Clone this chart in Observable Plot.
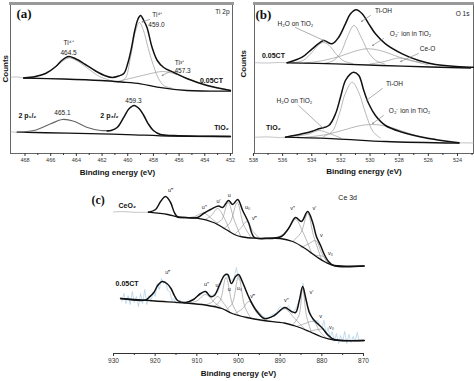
<!DOCTYPE html>
<html>
<head>
<meta charset="utf-8">
<script src="https://cdn.jsdelivr.net/npm/d3@7"></script>
<script src="https://cdn.jsdelivr.net/npm/@observablehq/plot@0.6"></script>
<style>
  body { margin: 0; background: #fff; }
  #fig { position: relative; width: 474px; height: 381px; overflow: hidden; background: #fff; }
  #fig svg { position: absolute; overflow: visible; }
</style>
</head>
<body>
<div id="fig"></div>
<script>
// ---------- (a) Ti 2p : [binding energy eV, counts a.u.] ----------
const aTicks = [468, 466, 464, 462, 460, 458, 456, 454, 452];
const aMinor = [467, 465, 463, 461, 459, 457, 455, 453];

const aCT_raw = [[469.1, 76.2], [468.7, 76.6], [468.3, 76], [468.1, 75.6]];
const aCT_env = [[468.1, 75.5], [467.2, 77], [466.4, 80], [465.6, 87], [465.1, 93.5], [464.6, 97], [464.1, 95], [463.3, 89], [462.5, 82.5], [461.7, 77.5], [461.2, 76], [460.7, 77.5], [460.3, 80], [460.0, 90], [459.7, 106], [459.45, 123], [459.2, 134.5], [459.0, 138], [458.75, 133], [458.5, 126], [458.1, 106], [457.7, 93], [457.2, 86], [456.4, 81], [455.4, 75], [453.8, 68], [452, 63]];
const aCT_bkg = [[468.1, 75.5], [465, 74.5], [462.1, 73], [460.5, 71.5], [459, 69.7], [457.7, 66.3], [455.4, 63], [452, 62.3]];
const aCT_ti4a = [[467.6, 76], [466.2, 81], [465.2, 91], [464.6, 95.5], [464, 93], [463.2, 86], [462.2, 77], [461.2, 72.5]];
const aCT_ti4b = [[460.8, 71], [460.2, 75], [459.8, 95], [459.4, 122], [459.1, 131], [458.8, 124], [458.4, 105], [458.0, 88], [457.6, 75], [457.2, 68], [456.6, 65.5]];
const aCT_ti3 = [[461, 71.5], [459.5, 76], [458.2, 80], [457.3, 82], [456.4, 80], [455.3, 74.5], [453.8, 67.5], [452, 63.5]];

const aTi_raw = [[469.1, 21.8], [468.8, 21.3], [468.6, 21.4]];
const aTi_p12 = [[468.6, 21.3], [467.3, 23], [466, 29.7], [465.1, 34], [464.2, 32.3], [463.2, 26.3], [462.1, 23], [461.3, 23]];
const aTi_p32 = [[461.6, 22.6], [461.3, 23], [460.8, 26.3], [460.3, 36.3], [459.9, 44.7], [459.5, 48], [459.1, 44.7], [458.75, 38], [458.4, 29.7], [458, 23], [457.45, 19], [456.4, 18], [454.3, 17.3], [452, 17]];
const aTi_bkg = [[468.6, 21.3], [464.7, 20.3], [462.1, 19.7], [459.5, 18.7], [457.45, 17.7], [452, 17]];

const aNotes = [
  {x: 464.61, y: 111, text: "Ti⁴⁺"}, {x: 464.61, y: 101, text: "464.5"},
  {x: 457.7, y: 139, text: "Ti⁴⁺"}, {x: 457.76, y: 129, text: "459.0"},
  {x: 455.97, y: 91, text: "Ti³⁺"}, {x: 455.73, y: 83, text: "457.3"},
  {x: 459.55, y: 53, text: "459.3"}, {x: 465.08, y: 41, text: "465.1"}
];
const aBold = [
  {x: 453.48, y: 73, text: "0.05CT"}, {x: 452.7, y: 26, text: "TiO₂"},
  {x: 461.42, y: 38, text: "2 p₃/₂"}, {x: 467.81, y: 38, text: "2 p₁/₂"}
];
const aArrows = [
  {x1: 458.3, y1: 134, x2: 458.89, y2: 131.5},
  {x1: 456.67, y1: 82.3, x2: 457.32, y2: 78}
];

// ---------- (b) O 1s ----------
const bTicks = [538, 536, 534, 532, 530, 528, 526, 524];
const bMinor = [537, 535, 533, 531, 529, 527, 525, 523];

const bCT_raw = [[537.9, 90.8], [537, 90.5], [536.3, 91], [535.7, 90.7]];
const bCT_env = [[535.69, 90.7], [534.66, 96.3], [533.97, 104.7], [533.4, 111.3], [533.17, 113], [532.6, 109.7], [532.15, 116.3], [531.69, 129.7], [531.34, 139.7], [530.95, 143.7], [530.54, 139.7], [530.09, 129.7], [529.63, 119.7], [528.94, 109.7], [527.79, 99.7], [526.65, 93], [525.51, 89], [523.1, 86.3], [522.9, 86.3]];
const bCT_bkg = [[535.69, 90.7], [532.37, 89.7], [527.8, 87.3], [523.1, 85.5]];
const bCT_h2o = [[535.3, 90.7], [534.6, 93], [534, 101], [533.5, 109], [533.17, 111], [532.8, 108], [532.3, 99], [531.8, 92.5], [531.2, 90]];
const bCT_tioh = [[533.2, 90], [532.5, 93], [532, 101], [531.6, 115], [531.1, 128], [530.6, 116], [530.1, 101], [529.6, 93], [529, 89.5]];
const bCT_o2 = [[534.5, 90.5], [533.2, 93], [532, 97.5], [531, 102.5], [530.2, 104.7], [529.3, 103], [528.5, 99], [527.5, 94], [526.5, 90.5]];
const bCT_ceo = [[530, 89.5], [529, 92], [528, 95.5], [527, 92.5], [526, 88.5]];

const bTi_raw = [[537.9, 16.2], [537, 16.6], [536.3, 16], [535.8, 16.3]];
const bTi_rawEnd = [[523.9, 10.7], [522.9, 10.5]];
const bTi_env = [[535.8, 16.3], [534.66, 19.7], [533.97, 22.3], [533.52, 24.7], [532.83, 28], [532.37, 39.7], [532.03, 56.3], [531.69, 73], [531.34, 79.7], [531.12, 81.3], [530.77, 78], [530.43, 63], [530.09, 49.7], [529.63, 38], [528.94, 28], [527.79, 21.3], [526.42, 16.3], [523.9, 10.7]];
const bTi_bkg = [[535.8, 16.3], [532.37, 14.7], [528.94, 12], [523.9, 10.3]];
const bTi_tioh = [[533.2, 17], [532.6, 22], [532.1, 40], [531.7, 60], [531.23, 71.3], [530.8, 62], [530.3, 40], [529.8, 22], [529.3, 15.5]];
const bTi_h2o = [[535, 17.5], [534.2, 19.5], [533.5, 23], [532.8, 20], [532, 15.5]];
const bTi_o2 = [[534.5, 16], [533, 19], [531.8, 23.5], [530.8, 27.5], [529.85, 29], [528.8, 27], [527.8, 22.5], [526.7, 17.5], [525.5, 14.5]];

const bNotes = [
  {x: 535.12, y: 130, text: "H₂O on TiO₂"}, {x: 529.08, y: 143, text: "Ti-OH"},
  {x: 527.22, y: 120, text: "O₂⁻ ion in TiO₂"}, {x: 526.06, y: 105, text: "Ce-O"},
  {x: 528.32, y: 70, text: "Ti-OH"}, {x: 535.19, y: 53, text: "H₂O on TiO₂"},
  {x: 527.29, y: 43, text: "O₂⁻ ion in TiO₂"}
];
const bBold = [{x: 536.63, y: 98, text: "0.05CT"}, {x: 536.63, y: 26, text: "TiO₂"}];
const bArrows = [
  {x1: 535.12, y1: 126, x2: 533.17, y2: 113},
  {x1: 529.97, y1: 138, x2: 530.59, y2: 132},
  {x1: 529.08, y1: 115, x2: 529.83, y2: 108},
  {x1: 526.68, y1: 100, x2: 527.9, y2: 92},
  {x1: 529.15, y1: 65, x2: 530.25, y2: 53},
  {x1: 534.9, y1: 48, x2: 533.2, y2: 25},
  {x1: 529.08, y1: 38, x2: 529.83, y2: 30}
];

// ---------- (c) Ce 3d ----------
const cTicks = [930, 920, 910, 900, 890, 880, 870];
const cMinor = [925, 915, 905, 895, 885, 875];

const cCe_raw = [[930, 141.5], [927.5, 141.9], [925, 141.2], [921.6, 141.3]];
const cCe_env = [[921.6, 141.3], [919.9, 144], [918.7, 152], [917.5, 157], [916.3, 151], [915.4, 141], [914.6, 136.5], [912.7, 136], [909.8, 136], [908.4, 140], [906.7, 144], [904.8, 147.5], [903.8, 146], [902.4, 153], [901.4, 149], [900.2, 154], [899, 143], [897.6, 131], [896.2, 116], [893.5, 115], [889.7, 117], [888, 125], [886.3, 136], [884.9, 132], [883.4, 142], [882.2, 131], [881.3, 117], [880.3, 108], [879.4, 99], [878.4, 92], [877.2, 88], [869.8, 87.5]];
const cCe_bkg = [[921.6, 141.3], [917, 139], [914.6, 136.5], [910, 135.3], [906, 131], [903, 124], [901, 119], [899, 116.5], [896, 115.3], [890, 115], [887, 112], [884, 105], [881, 96], [879, 91], [877, 88], [870, 87.5]];
const cCe_parts = [
  [[912.5, 135.5], [910.5, 137], [908.4, 140.5], [906.5, 135], [904.5, 128]],
  [[908, 134], [906.5, 138], [905, 145], [903.6, 137], [902, 122]],
  [[905.5, 130], [904, 134], [902.5, 151], [901, 133], [899.5, 117.5]],
  [[903.5, 125], [902, 131], [900.3, 151], [898.8, 129], [897, 116]],
  [[901, 119], [899.5, 125], [898, 132], [896.5, 122], [895, 115.5]],
  [[891, 115], [888.5, 122], [886.3, 134], [884.5, 121], [882.5, 101]],
  [[887, 112], [885, 121], [883.4, 140], [882, 118], [880, 93]],
  [[885, 106], [883, 110], [881.5, 113], [880, 100], [878.5, 90]],
  [[883, 101], [881.2, 98], [879.6, 97], [878.5, 91], [877.5, 88.5]]
];

const cCT_raw = [[928, 52], [927.5, 60], [927, 50], [926.5, 58], [926, 49], [925.5, 62], [925, 51], [924.5, 57], [924, 47], [923.5, 60], [923, 50], [922.5, 64], [922, 49], [921.5, 58], [921, 52], [920.5, 62], [920, 57], [919.5, 70], [919, 64], [918.5, 75], [918, 70], [917.5, 72], [917, 63], [916.5, 62], [916, 53], [915.5, 55], [915, 50], [914, 53], [913, 50], [912, 52], [911, 54], [910, 57], [909, 59], [908, 63], [907, 57], [906, 59], [905, 61], [904, 74], [903, 80], [902, 72], [901, 76], [900.5, 86], [900, 74], [899, 72], [898, 60], [897, 53], [896, 46], [895, 41], [894, 37], [893, 35], [892, 39], [891, 40], [890, 47], [889, 44], [888, 48], [887, 40], [886, 47], [885, 58], [884.5, 70], [884, 55], [883, 43], [882, 32], [881, 33], [880, 25], [879.5, 33], [879, 20], [878.5, 26], [878, 16], [877.5, 22], [877, 12], [876.5, 20], [876, 10], [875.5, 18], [875, 12], [874.5, 22], [874, 10], [873.5, 19], [873, 11], [872.5, 17], [872, 12], [871.5, 21], [871, 12]];
const cCT_env = [[928.3, 55], [922.3, 53.5], [921.5, 56], [920.3, 61], [919.4, 68], [918.3, 72], [917.2, 70], [916.2, 65], [915.4, 58], [914.6, 53], [912.7, 51], [910.8, 54], [909.1, 60], [907.9, 62], [906.7, 57], [905.8, 58], [904.6, 68], [903.4, 78], [902.6, 79], [901.7, 70], [900.7, 77], [900, 79], [899, 71], [897.6, 57], [895.9, 44], [893.8, 35], [891.4, 38], [888.9, 46], [887.3, 42], [886.3, 41], [885.4, 53], [884.6, 67], [883.9, 56], [883, 41], [882, 34], [880.8, 29], [879.8, 25], [878.4, 18], [877, 14], [869.8, 13]];
const cCT_bkg = [[928.3, 55], [920, 52.5], [912.7, 50.5], [908, 48.5], [904, 45], [901.5, 40], [898, 36], [894, 33], [889, 30.5], [886, 27], [883, 22], [880, 16.5], [877, 13.5], [870, 13]];
const cCT_parts = [
  [[912, 50.3], [910, 52.5], [907.9, 59], [905.5, 50], [903.5, 44]],
  [[908, 48.5], [906.5, 51], [905, 57], [903.5, 50], [902, 41]],
  [[906, 47], [904.5, 52], [903, 76], [901.5, 50], [900, 38]],
  [[903, 43.5], [901.5, 50], [900, 77], [898.5, 47], [897, 35]],
  [[901, 39.5], [899, 45], [897.5, 52], [895.5, 40], [893.5, 33]],
  [[894, 33], [891.5, 38], [889, 45], [886.5, 35], [884, 24]],
  [[887, 28.5], [885.5, 38], [884.6, 65], [883.7, 38], [882.5, 21]],
  [[886, 27], [884, 30], [882, 32], [880.5, 22], [879, 15.5]],
  [[883, 22], [881, 24], [879.8, 24], [878.5, 17], [877.5, 14]]
];

const cNotes = [
  {x: 916.3, y: 163, text: "u‴"}, {x: 908.2, y: 146, text: "u″"}, {x: 904.8, y: 152, text: "u′"},
  {x: 902.2, y: 158, text: "u"}, {x: 897.8, y: 146, text: "u₀"}, {x: 896.2, y: 135, text: "v‴"},
  {x: 887, y: 145, text: "v″"}, {x: 881.8, y: 145, text: "v′"}, {x: 880.1, y: 118, text: "v"},
  {x: 877.9, y: 100, text: "v₀"},
  {x: 917, y: 81, text: "u‴"}, {x: 907.7, y: 69, text: "u″"}, {x: 905, y: 68, text: "u′"},
  {x: 902.2, y: 64, text: "u"}, {x: 899.8, y: 65, text: "u₀"}, {x: 896.6, y: 57, text: "v‴"},
  {x: 888.5, y: 53, text: "v″"}, {x: 882.5, y: 61, text: "v′"}, {x: 880.3, y: 37, text: "v"},
  {x: 877.7, y: 26, text: "v₀"}
];
const cBold = [{x: 928.8, y: 148, text: "CeO₂"}, {x: 929.5, y: 70, text: "0.05CT"}];

// ---------- drawing helpers ----------
const SANS = "'Liberation Sans', Arial, Helvetica, sans-serif";
const SERIF = "'Liberation Serif', 'Times New Roman', serif";
const XY = {x: d => d[0], y: d => d[1], curve: "catmull-rom"};
const envelope = d => Plot.line(d, {...XY, stroke: "#111", strokeWidth: 1.5});
const baseline = d => Plot.line(d, {...XY, stroke: "#111", strokeWidth: 1.3});
const comp = d => Plot.line(d, {...XY, stroke: "#9a9a9a", strokeWidth: 0.7});
const raw = d => Plot.line(d, {...XY, stroke: "#aaa", strokeWidth: 0.7});
const notes = (d, size) => Plot.text(d, {x: "x", y: "y", text: "text", fontSize: size, fill: "#222"});
const bold = (d, size, anchor = "middle") => Plot.text(d, {x: "x", y: "y", text: "text", fontSize: size, fontWeight: "bold", fill: "#111", textAnchor: anchor});
const leaders = d => Plot.arrow(d, {x1: "x1", y1: "y1", x2: "x2", y2: "y2", stroke: "#777", strokeWidth: 0.6, headLength: 3});
const axes = (major, minor, size) => [
  Plot.axisX(major, {tickSize: 3, tickPadding: 2, fontSize: size, fill: "#333", stroke: "#333", label: null, tickFormat: d => String(d)}),
  Plot.axisX(minor, {tickSize: 2, stroke: "#333", label: null, tickFormat: () => ""})
];
// framed panels carry a heavier grey edge along the top
const panelFrame = () => [
  Plot.frame({stroke: "#666", strokeWidth: 1}),
  Plot.frame({anchor: "top", stroke: "#999", strokeWidth: 3})
];
const xTitle = (dx, dy) => Plot.text(["Binding energy (eV)"], {frameAnchor: "bottom", dx, dy, fontSize: 8, fontWeight: "bold", fill: "#111"});
const yTitle = (dx, dy) => Plot.text(["Counts"], {frameAnchor: "left", dx, dy, rotate: -90, fontSize: 8, fontWeight: "bold", fill: "#111"});

const fig = document.getElementById("fig");
function place(svg, left, top) {
  svg.style.left = left + "px";
  svg.style.top = top + "px";
  fig.appendChild(svg);
}

// (a) Ti 2p
const plotA = Plot.plot({
  width: 237, height: 185,
  marginLeft: 10, marginRight: 5, marginTop: 3, marginBottom: 32,
  style: {fontFamily: SANS, background: "transparent"},
  x: {domain: [469.13, 451.84]},
  y: {domain: [0, 150], axis: null},
  marks: [
    panelFrame(),
    axes(aTicks, aMinor, 5.5),
    raw(aCT_raw), raw(aTi_raw),
    comp(aCT_ti4a), comp(aCT_ti4b), comp(aCT_ti3),
    baseline(aCT_bkg), envelope(aCT_env),
    baseline(aTi_bkg),
    Plot.line(aTi_p12, {...XY, stroke: "#666", strokeWidth: 1.2}),
    envelope(aTi_p32),
    leaders(aArrows),
    notes(aNotes, 6.5),
    bold(aBold, 7),
    Plot.text(["(a)"], {x: 468.66, y: 140, textAnchor: "start", fontSize: 13, fontWeight: "bold", fontFamily: SERIF, fill: "#111"}),
    Plot.text(["Ti 2p"], {x: 452.07, y: 142, textAnchor: "end", fontSize: 6.5, fill: "#222"}),
    xTitle(-4, 21),
    yTitle(-5, 4)
  ]
});
place(plotA, 0, 0);

// (b) O 1s
const plotB = Plot.plot({
  width: 239, height: 185,
  marginLeft: 19, marginRight: 1, marginTop: 3, marginBottom: 32,
  style: {fontFamily: SANS, background: "transparent"},
  x: {domain: [537.93, 522.9]},
  y: {domain: [0, 150], axis: null},
  marks: [
    panelFrame(),
    axes(bTicks, bMinor, 5.5),
    raw(bCT_raw), raw(bTi_raw), raw(bTi_rawEnd),
    comp(bCT_h2o), comp(bCT_tioh), comp(bCT_o2), comp(bCT_ceo),
    comp(bTi_h2o), comp(bTi_tioh), comp(bTi_o2),
    baseline(bCT_bkg), envelope(bCT_env),
    baseline(bTi_bkg), envelope(bTi_env),
    leaders(bArrows),
    notes(bNotes, 6.5),
    bold(bBold, 7),
    Plot.text(["(b)"], {x: 537.86, y: 139, textAnchor: "start", fontSize: 13, fontWeight: "bold", fontFamily: SERIF, fill: "#111"}),
    Plot.text(["O 1s"], {x: 523.18, y: 140, textAnchor: "end", fontSize: 6.5, fill: "#222"}),
    xTitle(0, 20),
    yTitle(-11, -1)
  ]
});
place(plotB, 235, 0);

// (c) Ce 3d
const plotC = Plot.plot({
  width: 474, height: 196,
  marginLeft: 113, marginRight: 111, marginTop: 0, marginBottom: 28,
  style: {fontFamily: SANS, background: "transparent"},
  x: {domain: [930, 870]},
  y: {domain: [0, 168], axis: null},
  marks: [
    Plot.ruleY([0], {stroke: "#333", strokeWidth: 1}),
    axes(cTicks, cMinor, 6.5),
    Plot.line(cCT_raw, {x: d => d[0], y: d => d[1], stroke: "#a9cfe8", strokeWidth: 0.7}),
    raw(cCe_raw),
    cCe_parts.map(comp), cCT_parts.map(comp),
    baseline(cCe_bkg), envelope(cCe_env),
    baseline(cCT_bkg), envelope(cCT_env),
    notes(cNotes, 5.5),
    bold(cBold, 7, "start"),
    Plot.text(["(c)"], {x: 935.28, y: 153, textAnchor: "start", fontSize: 12, fontWeight: "bold", fontFamily: SERIF, fill: "#111"}),
    Plot.text(["Ce 3d"], {x: 873.8, y: 156, fontSize: 7, fill: "#222"}),
    xTitle(0, 22)
  ]
});
place(plotC, 0, 185);
</script>
</body>
</html>
